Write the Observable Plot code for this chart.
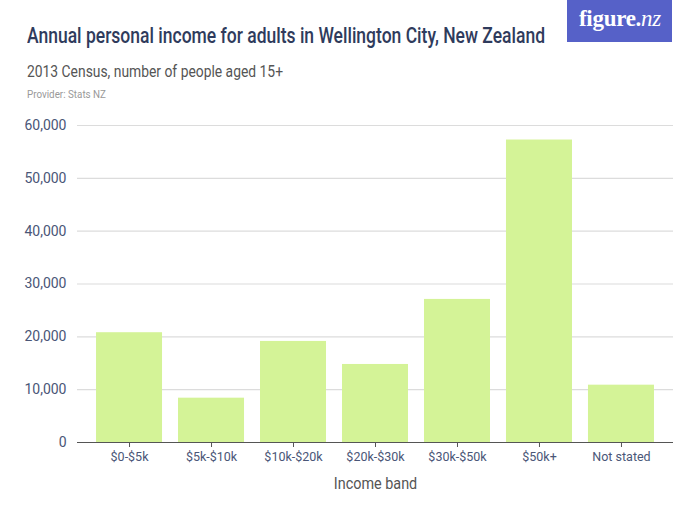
<!DOCTYPE html>
<html>
<head>
<meta charset="utf-8">
<script src="https://cdn.jsdelivr.net/npm/d3@7"></script>
<script src="https://cdn.jsdelivr.net/npm/@observablehq/plot@0.6"></script>
<style>
  html, body { margin: 0; padding: 0; background: #fff; }
  body { width: 700px; height: 525px; position: relative; overflow: hidden; font-family: Roboto, "Liberation Sans", sans-serif; }
  #header { position: relative; height: 110px; }
  .fit { position: absolute; left: 27px; white-space: nowrap; transform-origin: 0 0; }
  #title { top: 23px; font-size: 22px; font-weight: 500; color: #2f3b5c; }
  #subtitle { top: 62px; font-size: 16px; color: #555; }
  #provider { top: 88px; font-size: 10.5px; color: #999; }
  #logo { position: absolute; left: 567px; top: 0; width: 105px; height: 42px; background: #5661c8; color: #fff; font-family: "Liberation Serif", "DejaVu Serif", serif; font-weight: bold; font-size: 23px; }
  #logo span { position: absolute; left: 12px; top: 6px; white-space: nowrap; letter-spacing: -0.3px; }
  #logo i { font-style: italic; font-weight: normal; }
  #chart svg { display: block; }
</style>
</head>
<body>
<div id="header">
  <div id="title" class="fit" data-w="518">Annual personal income for adults in Wellington City, New Zealand</div>
  <div id="subtitle" class="fit" data-w="256">2013 Census, number of people aged 15+</div>
  <div id="provider" class="fit" data-w="79">Provider: Stats NZ</div>
  <div id="logo"><span>figure.<i>nz</i></span></div>
</div>
<div id="chart"></div>
<script>
const categories = ["$0-$5k", "$5k-$10k", "$10k-$20k", "$20k-$30k", "$30k-$50k", "$50k+", "Not stated"];
const values = [20780, 8390, 19130, 14770, 27080, 57250, 10850];
const yTicks = [0, 10000, 20000, 30000, 40000, 50000, 60000];

const data = categories.map((c, i) => ({category: c, value: values[i]}));

const chart = Plot.plot({
  width: 700,
  height: 415,
  marginTop: 15,
  marginBottom: 83,
  marginLeft: 77,
  marginRight: 27,
  style: {fontFamily: "Roboto, 'Liberation Sans', sans-serif", background: "#fff", overflow: "visible"},
  x: {domain: categories, paddingInner: 0.195, paddingOuter: 0.232, round: false},
  y: {domain: [0, 60000]},
  marks: [
    Plot.gridY(yTicks.filter(d => d > 0), {stroke: "#dcdcdc", strokeOpacity: 1, strokeWidth: 1.2}),
    Plot.barY(data, {x: "category", y: "value", fill: "#d4f397"}),
    Plot.ruleY([0], {stroke: "#555", strokeWidth: 1.2}),
    Plot.axisY(yTicks, {tickSize: 0, tickPadding: 11, tickFormat: d3.format(","), fontSize: 14, fill: "#4a5677", label: null}),
    Plot.axisX({tickSize: 5, tickPadding: 5, stroke: "#555", fontSize: 12.5, fill: "#4a5677", label: "Income band", labelAnchor: "center", labelOffset: 46})
  ]
});
document.getElementById("chart").appendChild(chart);
chart.querySelectorAll("g[aria-label='x-axis label']").forEach(el => {
  el.setAttribute("fill", "#555");
  el.setAttribute("font-size", "16");
  el.querySelectorAll("text").forEach(t => { t.setAttribute("transform", (t.getAttribute("transform") || "") + " scale(0.9,1)"); });
});
document.querySelectorAll(".fit").forEach(el => {
  const w = el.getBoundingClientRect().width;
  const target = +el.dataset.w;
  el.style.transform = `scaleX(${target / w})`;
});
</script>
</body>
</html>
